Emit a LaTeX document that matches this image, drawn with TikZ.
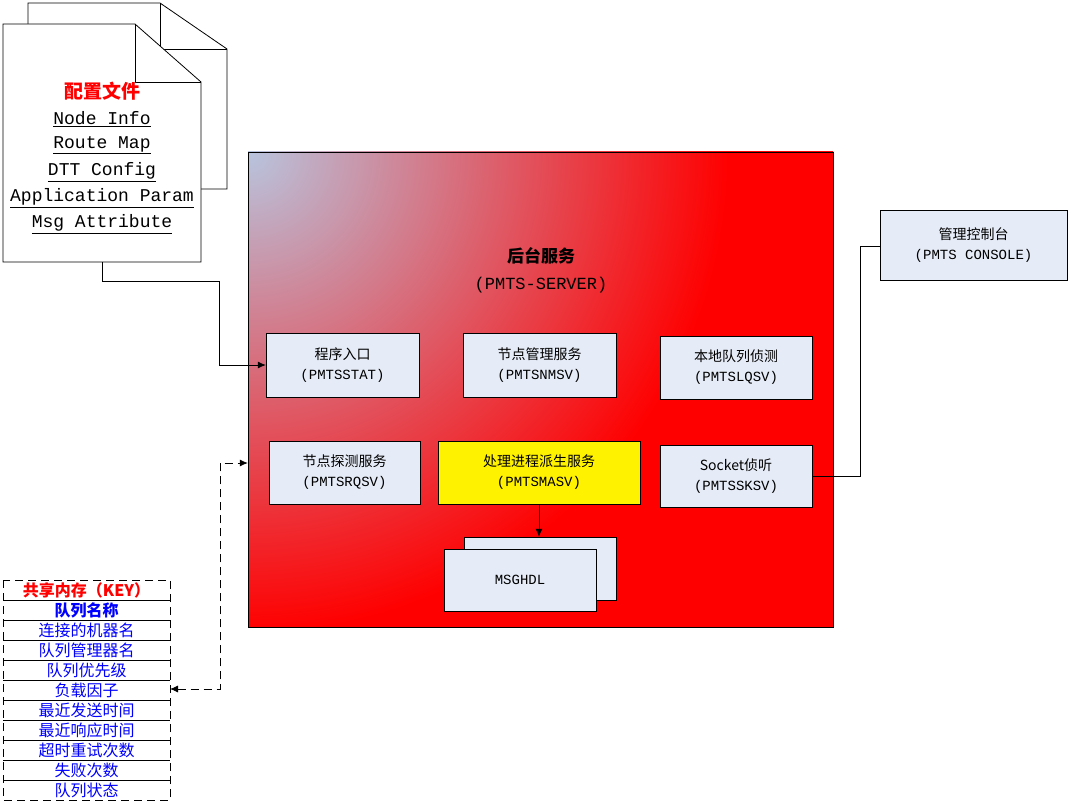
\documentclass[tikz,border=0pt]{standalone}
\usepackage{fontspec}
\setmainfont{Liberation Mono}
\newfontfamily\cjk{Noto Sans CJK SC}
\usetikzlibrary{arrows.meta}
\definecolor{boxfill}{HTML}{E6ECF7}
\definecolor{topleft}{HTML}{B8C4DE}
\begin{document}
\begin{tikzpicture}[x=1pt,y=-1pt,
  svc/.style={draw=black,fill=boxfill,align=center,font=\fontsize{14}{20}\selectfont,inner sep=0pt},
  conn/.style={draw=black,line width=0.8pt},
  tab/.style={text=blue,font=\cjk\fontsize{16}{17}\selectfont}]
\useasboundingbox (0,0) rectangle (1071,805);
% documents
\draw[fill=white,line width=0.8pt] (28,3) -- (160,3) -- (227,49) -- (227,189) -- (28,189) -- cycle;
\draw[line width=0.8pt] (160,3) -- (160,49) -- (227,49);
\draw[fill=white,line width=0.8pt] (3,24) -- (135,24) -- (201,82) -- (201,262) -- (3,262) -- cycle;
\draw[line width=0.8pt] (135,24) -- (135,82) -- (201,82);
\node[text=red,font=\cjk\bfseries\fontsize{19}{20}\selectfont] at (102,91) {配置文件};
\foreach \t/\y in {Node Info/119,Route Map/145,DTT Config/172,Application Param/198,Msg Attribute/224}
  \node[font=\fontsize{18}{20}\selectfont] at (102,\y) {\underline{\t}};
\coordinate (docb) at (102,262);
% main box
\begin{scope}
\clip (248,152) rectangle (833,627);
\fill[red] (240,140) rectangle (840,640);
\shade[inner color=topleft,outer color=red] (248,152) circle (480);
\end{scope}
\draw[line width=0.8pt] (248,152) rectangle (833,627);
\node (main) at (540.5,389.5) [minimum width=585pt,minimum height=475pt] {};
\node[align=center,font=\fontsize{17}{27}\selectfont] at (541,270) {{\cjk\bfseries 后台服务}\\(PMTS-SERVER)};
% services
\node[svc,minimum width=153pt,minimum height=64pt] (s1) at (342.5,365) {{\cjk 程序入口}\\(PMTSSTAT)};
\node[svc,minimum width=153pt,minimum height=64pt] (s2) at (539.5,365) {{\cjk 节点管理服务}\\(PMTSNMSV)};
\node[svc,minimum width=152pt,minimum height=63pt] (s3) at (736,367.5) {{\cjk 本地队列侦测}\\(PMTSLQSV)};
\node[svc,minimum width=151pt,minimum height=63pt] (s4) at (344.5,472.5) {{\cjk 节点探测服务}\\(PMTSRQSV)};
\node[svc,fill=yellow,minimum width=202pt,minimum height=63pt] (s5) at (539,472.5) {{\cjk 处理进程派生服务}\\(PMTSMASV)};
\node[svc,minimum width=152pt,minimum height=62pt] (s6) at (736,476) {{\cjk Socket侦听}\\(PMTSSKSV)};
\node[svc,minimum width=152pt,minimum height=63pt] (m2) at (540,568.5) {};
\node[svc,minimum width=152pt,minimum height=62pt] (m1) at (520,580) {MSGHDL};
\node[svc,minimum width=187pt,minimum height=70pt] (con) at (973.5,245) {{\cjk 管理控制台}\\(PMTS CONSOLE)};
% connectors
\draw[conn,-{Latex[length=8pt,width=7pt]}] (s5.south) -- (s5.south |- m2.north);
\draw[conn,-{Latex[length=8pt,width=7pt]}] (docb) -- (102,281) -- (219,281) -- (219,365) -- (s1.west);
\draw[conn] (s6.east) -- (860,476) -- (860,246) -- (con.west |- 0,246);
% table
\coordinate (tl) at (3,580);
\coordinate (br) at (170,800);
\draw[dash pattern=on 8pt off 5pt,line width=0.8pt] (tl) rectangle (br);
\foreach \y/\s in {600/d,620/d,640/s,660/d,680/s,700/d,720/s,740/d,760/s,780/d}{
  \ifx d\s \draw[dash pattern=on 8pt off 5pt,line width=0.8pt] (3,\y) -- (170,\y);
  \else \draw[line width=0.8pt] (3,\y) -- (170,\y); \fi}
\node[text=red,font=\cjk\bfseries\fontsize{16}{17}\selectfont] at (86.5,590) {共享内存（KEY）};
\node[tab,font=\cjk\bfseries\fontsize{16}{17}\selectfont] at (86.5,610) {队列名称};
\foreach \t [count=\i from 2] in {连接的机器名,队列管理器名,队列优先级,负载因子,最近发送时间,最近响应时间,超时重试次数,失败次数,队列状态}
  \node[tab] at (86.5,590+20*\i) {\t};
\coordinate (tabr) at (170,689);
\draw[conn,dash pattern=on 8pt off 5pt,{Latex[length=8pt,width=7pt]}-{Latex[length=8pt,width=7pt]}] (tabr) -- (220,689) -- (220,463) -- (main.west |- 0,463);
\end{tikzpicture}
\end{document}
